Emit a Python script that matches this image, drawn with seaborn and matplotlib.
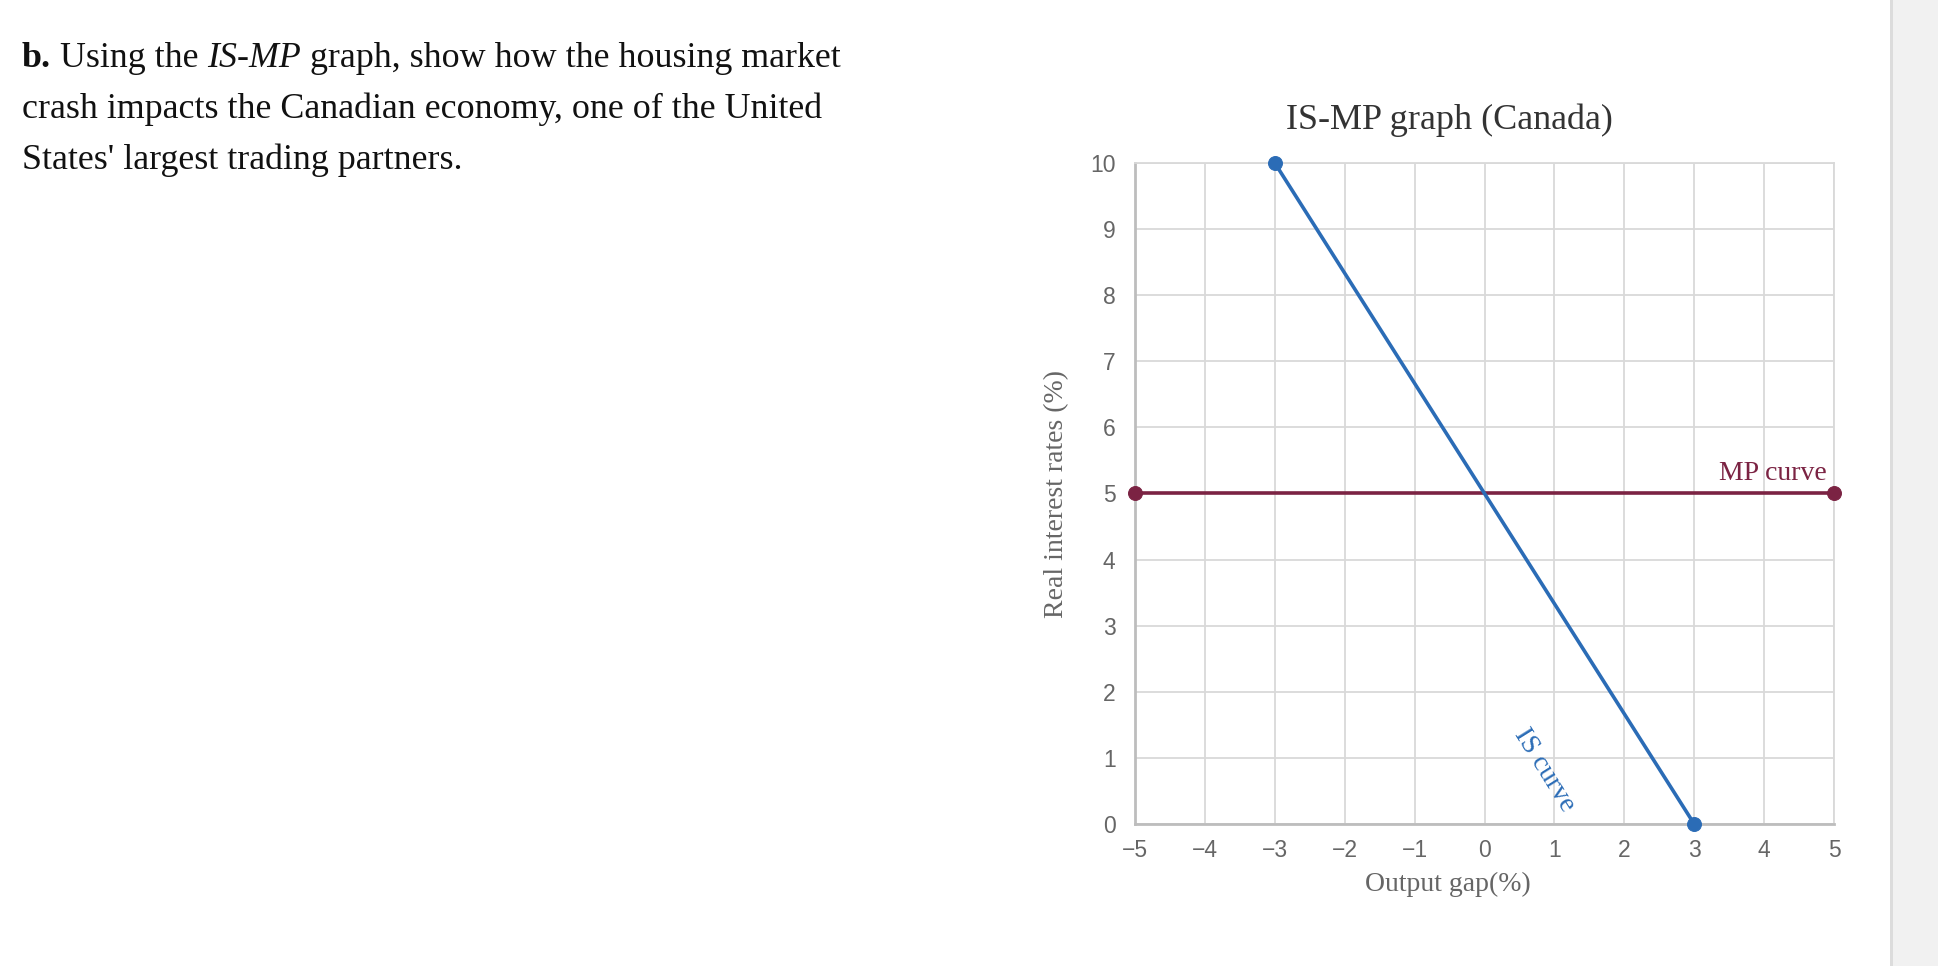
import matplotlib
matplotlib.use('Agg')
import matplotlib.pyplot as plt
from matplotlib.patches import Rectangle
import seaborn as sns
import pandas as pd

######### CHART DATA #########

is_x = [-3, 3]        # IS curve endpoints, output gap (%)
is_y = [10, 0]        # real interest rate (%)
mp_x = [-5, 5]        # MP curve endpoints
mp_y = [5, 5]
x_ticks = [-5, -4, -3, -2, -1, 0, 1, 2, 3, 4, 5]
y_ticks = [0, 1, 2, 3, 4, 5, 6, 7, 8, 9, 10]

question_lines = [
    [('b.', 'bold', 'normal'), (' Using the ', 'normal', 'normal'), ('IS-MP', 'normal', 'italic'),
     (' graph, show how the housing market', 'normal', 'normal')],
    [('crash impacts the Canadian economy, one of the United', 'normal', 'normal')],
    [("States' largest trading partners.", 'normal', 'normal')],
]

blue = '#2b6cb6'
maroon = '#7b2343'
grid_col = '#d9d9d9'
axis_col = '#bdbdbd'
label_col = '#666666'

sns.set_style('white')
plt.rcParams['font.family'] = ['Liberation Sans', 'DejaVu Sans']

W, H = 1938, 966
fig = plt.figure(figsize=(W / 100, H / 100), dpi=100)
fig.patch.set_facecolor('white')

# axes placed in pixel coords of the reference
left, right, top, bottom = 1135, 1834, 163, 824
ax = fig.add_axes([left / W, 1 - bottom / H, (right - left) / W, (bottom - top) / H])

is_df = pd.DataFrame({'gap': is_x, 'rate': is_y})
mp_df = pd.DataFrame({'gap': mp_x, 'rate': mp_y})

sns.lineplot(data=mp_df, x='gap', y='rate', ax=ax, color=maroon, linewidth=2.6, sort=False,
             marker='o', markersize=10, markeredgecolor=maroon, zorder=4, clip_on=False)
sns.lineplot(data=is_df, x='gap', y='rate', ax=ax, color=blue, linewidth=2.6, sort=False,
             marker='o', markersize=10, markeredgecolor=blue, zorder=5, clip_on=False)

ax.set_xlim(-5, 5)
ax.set_ylim(0, 10)
ax.set_xticks(x_ticks)
ax.set_yticks(y_ticks)
ax.set_xticklabels(['\u2212%d' % abs(v) if v < 0 else str(v) for v in x_ticks])
ax.grid(True, color=grid_col, linewidth=1.3)
ax.set_axisbelow(True)

for s in ['top', 'right']:
    ax.spines[s].set_color(grid_col)
    ax.spines[s].set_linewidth(1.3)
for s in ['left', 'bottom']:
    ax.spines[s].set_color(axis_col)
    ax.spines[s].set_linewidth(2)

ax.tick_params(axis='y', length=10, width=1.3, color=grid_col, labelsize=16.5, labelcolor=label_col, pad=4)
ax.tick_params(axis='x', length=6, width=1.3, color=grid_col, labelsize=16.5, labelcolor=label_col, pad=5)

# axis titles are centred on the whole chart block, not the plot area
ax.set_xlabel('Output gap(%)', family='Liberation Serif', fontsize=20, color=label_col)
ax.set_ylabel('Real interest rates (%)', family='Liberation Serif', fontsize=20, color=label_col)
ax.xaxis.set_label_coords((1448 - left) / (right - left), -(872 - bottom) / (bottom - top))
ax.yaxis.set_label_coords(-(left - 1069) / (right - left), 0.5)

# curve labels
ax.text(4.9, 5.12, 'MP curve', family='Liberation Serif', fontsize=20, color=maroon,
        ha='right', va='bottom')
ax.text(0.85, 0.82, 'IS curve', family='Liberation Serif', fontsize=20, color=blue,
        ha='center', va='center', rotation=-58)

# title
fig.text(1449 / W, 1 - 120 / H, 'IS-MP graph (Canada)', family='Liberation Serif',
         fontsize=26, color='#333333', ha='center', va='center')

# question text on the left, built from styled pieces
renderer = fig.canvas.get_renderer()
baselines = [67, 118, 169]
for line, base in zip(question_lines, baselines):
    x = 22
    for txt, weight, style in line:
        t = fig.text(x / W, 1 - base / H, txt, family='Liberation Serif', fontsize=25.8,
                     weight=weight, style=style, color='#111111', va='baseline', ha='left')
        bb = t.get_window_extent(renderer=renderer)
        x += bb.width

# scrollbar strip on the right edge
fig.patches.append(Rectangle((1892 / W, 0), 46 / W, 1, transform=fig.transFigure,
                             facecolor='#f1f1f1', edgecolor='none', zorder=0))
fig.patches.append(Rectangle((1890 / W, 0), 3 / W, 1, transform=fig.transFigure,
                             facecolor='#dcdcdc', edgecolor='none', zorder=0))

fig.savefig('out.png', dpi=100, facecolor='white')
